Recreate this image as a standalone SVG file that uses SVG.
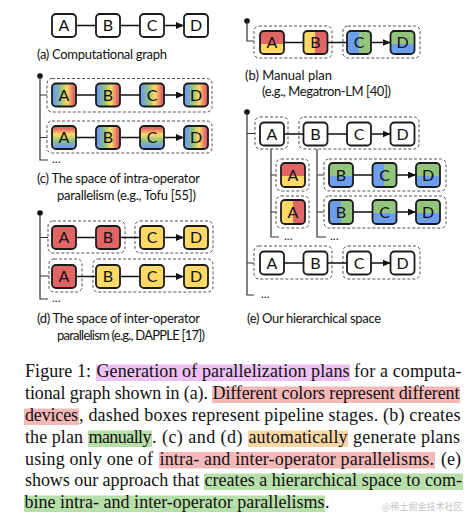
<svg xmlns="http://www.w3.org/2000/svg" width="474" height="525" viewBox="0 0 474 525">
<style>
.nd{stroke:#1a1a1a;stroke-width:1.8}
.w{fill:#fff}
.lt{font-family:Lato,"Open Sans",sans-serif;font-size:16px;fill:#111;text-anchor:middle}
.st{fill:none;stroke:#555;stroke-width:1;stroke-dasharray:3 2}
.ar{stroke:#111;stroke-width:1.5;fill:none;marker-end:url(#ah)}
.tr{stroke:#333;stroke-width:1.2;fill:none}
.lb{font-family:Lato,"Open Sans",sans-serif;font-size:13px;fill:#111}
.dt{font-family:Lato,sans-serif;font-size:12px;fill:#111}
.cap{font-family:"Liberation Serif","Times New Roman",serif;font-size:18px;fill:#111}
.hp{fill:#efc0f6}.hr{fill:#f5b8b8}.hg{fill:#b7dfa9}.ho{fill:#fbd7a6}
</style>
<defs>
<marker id="ah" viewBox="0 0 8 7" refX="8" refY="3.5" markerWidth="8" markerHeight="7" markerUnits="userSpaceOnUse" orient="auto"><path d="M0,0 L8,3.5 L0,7 z" fill="#111"/></marker>
<linearGradient id="rbh" x1="0" y1="0" x2="1" y2="0"><stop offset="0.1" stop-color="#6d9eeb"/><stop offset="0.37" stop-color="#93c47d"/><stop offset="0.63" stop-color="#ffd966"/><stop offset="0.9" stop-color="#e06666"/></linearGradient>
<linearGradient id="rbv" x1="0" y1="0" x2="0" y2="1"><stop offset="0.1" stop-color="#e06666"/><stop offset="0.37" stop-color="#ffd966"/><stop offset="0.63" stop-color="#93c47d"/><stop offset="0.9" stop-color="#6d9eeb"/></linearGradient>
<linearGradient id="ryv" x1="0" y1="0" x2="0" y2="1"><stop offset="0.55" stop-color="#e06666"/><stop offset="0.55" stop-color="#ffd966"/></linearGradient>
<linearGradient id="yrh" x1="0" y1="0" x2="1" y2="0"><stop offset="0.5" stop-color="#ffd966"/><stop offset="0.5" stop-color="#e06666"/></linearGradient>
<linearGradient id="bgh" x1="0" y1="0" x2="1" y2="0"><stop offset="0.5" stop-color="#6d9eeb"/><stop offset="0.5" stop-color="#93c47d"/></linearGradient>
<linearGradient id="gbv" x1="0" y1="0" x2="0" y2="1"><stop offset="0.55" stop-color="#93c47d"/><stop offset="0.55" stop-color="#6d9eeb"/></linearGradient>
</defs>
<rect width="474" height="525" fill="#fff"/>

<!-- stage boxes -->
<g id="stages">
<rect class="st" x="47" y="78.5" width="165" height="33.5" rx="5"/>
<rect class="st" x="47" y="121" width="165" height="32" rx="5"/>
<rect class="st" x="48" y="221" width="77" height="32" rx="5"/>
<rect class="st" x="135" y="221" width="78" height="32" rx="5"/>
<rect class="st" x="49" y="259" width="33" height="33" rx="5"/>
<rect class="st" x="93" y="259" width="120" height="33" rx="5"/>
<rect class="st" x="254" y="26" width="78" height="32" rx="5"/>
<rect class="st" x="343" y="26" width="77" height="32" rx="5"/>
<rect class="st" x="255" y="117" width="33" height="32" rx="5"/>
<rect class="st" x="299" y="117" width="120" height="32" rx="5"/>
<rect class="st" x="276" y="159" width="33" height="32" rx="5"/>
<rect class="st" x="276" y="196" width="33" height="32" rx="5"/>
<rect class="st" x="324" y="159" width="122" height="32" rx="5"/>
<rect class="st" x="324" y="196" width="122" height="32" rx="5"/>
<rect class="st" x="254" y="246" width="78" height="33" rx="5"/>
<rect class="st" x="343" y="246" width="77" height="33" rx="5"/>
</g>

<!-- connectors -->
<g id="connectors">
<circle cx="40" cy="76" r="2.8" fill="#111"/>
<circle cx="40" cy="213" r="2.8" fill="#111"/>
<circle cx="247" cy="21" r="2.8" fill="#111"/>
<circle cx="247" cy="112" r="2.8" fill="#111"/>
<path class="tr" d="M40,76 V160 H48 M40,95 H47 M40,137.5 H47"/>
<path class="tr" d="M40,213 V299 H48 M40,237.5 H48 M40,276 H49"/>
<path class="tr" d="M247,21 V41 H254"/>
<path class="tr" d="M247,112 V295 H254 M247,133.5 H255 M247,263 H254 M271,149 V237 H279 M271,175 H276 M271,212 H276 M317,149 V237 H326 M317,175 H324 M317,212 H324"/>
<path class="ar" d="M76,25.5 H96 M120,25.5 H140 M164,25.5 H184"/>
<path class="ar" d="M76,95 H96 M120,95 H140 M164,95 H184"/>
<path class="ar" d="M76,137.5 H96 M120,137.5 H140 M164,137.5 H184"/>
<path class="ar" d="M76,237.5 H96 M120,237.5 H140 M164,237.5 H184"/>
<path class="ar" d="M76,276.5 H96 M120,276.5 H140 M164,276.5 H184"/>
<path class="ar" d="M284,42.5 H303.5 M327.5,42.5 H347 M371,42.5 H390.5"/>
<path class="ar" d="M284,134 H303.5 M327.5,134 H347 M371,134 H390.5"/>
<path class="ar" d="M353,175 H372.5 M396.5,175 H416"/>
<path class="ar" d="M353,212 H372.5 M396.5,212 H416"/>
<path class="ar" d="M284,263 H303.5 M327.5,263 H347 M371,263 H390.5"/>
<text class="dt" x="52" y="163">...</text>
<text class="dt" x="52" y="302">...</text>
<text class="dt" x="284" y="240">...</text>
<text class="dt" x="330" y="240">...</text>
<text class="dt" x="261" y="298">...</text>
</g>

<!-- (a) -->
<g id="a-A"><rect class="nd w" x="52" y="14" width="24" height="23" rx="4"/><text class="lt" x="64" y="31.3">A</text></g>
<g id="a-B"><rect class="nd w" x="96" y="14" width="24" height="23" rx="4"/><text class="lt" x="108" y="31.3">B</text></g>
<g id="a-C"><rect class="nd w" x="140" y="14" width="24" height="23" rx="4"/><text class="lt" x="152" y="31.3">C</text></g>
<g id="a-D"><rect class="nd w" x="184" y="14" width="24" height="23" rx="4"/><text class="lt" x="196" y="31.3">D</text></g>

<!-- (c) row 1 -->
<g id="c1-A"><rect class="nd" fill="url(#rbh)" x="52" y="83.5" width="24" height="23" rx="4"/><text class="lt" x="64" y="100.8">A</text></g>
<g id="c1-B"><rect class="nd" fill="url(#rbh)" x="96" y="83.5" width="24" height="23" rx="4"/><text class="lt" x="108" y="100.8">B</text></g>
<g id="c1-C"><rect class="nd" fill="url(#rbh)" x="140" y="83.5" width="24" height="23" rx="4"/><text class="lt" x="152" y="100.8">C</text></g>
<g id="c1-D"><rect class="nd" fill="url(#rbh)" x="184" y="83.5" width="24" height="23" rx="4"/><text class="lt" x="196" y="100.8">D</text></g>
<!-- (c) row 2 -->
<g id="c2-A"><rect class="nd" fill="url(#rbv)" x="52" y="126" width="24" height="23" rx="4"/><text class="lt" x="64" y="143.3">A</text></g>
<g id="c2-B"><rect class="nd" fill="url(#rbh)" x="96" y="126" width="24" height="23" rx="4"/><text class="lt" x="108" y="143.3">B</text></g>
<g id="c2-C"><rect class="nd" fill="url(#rbv)" x="140" y="126" width="24" height="23" rx="4"/><text class="lt" x="152" y="143.3">C</text></g>
<g id="c2-D"><rect class="nd" fill="url(#rbh)" x="184" y="126" width="24" height="23" rx="4"/><text class="lt" x="196" y="143.3">D</text></g>

<!-- (d) row 1 -->
<g id="d1-A"><rect class="nd" fill="#e06666" x="52" y="226" width="24" height="23" rx="4"/><text class="lt" x="64" y="243.3">A</text></g>
<g id="d1-B"><rect class="nd" fill="#e06666" x="96" y="226" width="24" height="23" rx="4"/><text class="lt" x="108" y="243.3">B</text></g>
<g id="d1-C"><rect class="nd" fill="#ffd966" x="140" y="226" width="24" height="23" rx="4"/><text class="lt" x="152" y="243.3">C</text></g>
<g id="d1-D"><rect class="nd" fill="#ffd966" x="184" y="226" width="24" height="23" rx="4"/><text class="lt" x="196" y="243.3">D</text></g>
<!-- (d) row 2 -->
<g id="d2-A"><rect class="nd" fill="#e06666" x="52" y="265" width="24" height="23" rx="4"/><text class="lt" x="64" y="282.3">A</text></g>
<g id="d2-B"><rect class="nd" fill="#ffd966" x="96" y="265" width="24" height="23" rx="4"/><text class="lt" x="108" y="282.3">B</text></g>
<g id="d2-C"><rect class="nd" fill="#ffd966" x="140" y="265" width="24" height="23" rx="4"/><text class="lt" x="152" y="282.3">C</text></g>
<g id="d2-D"><rect class="nd" fill="#ffd966" x="184" y="265" width="24" height="23" rx="4"/><text class="lt" x="196" y="282.3">D</text></g>

<!-- (b) -->
<g id="b-A"><rect class="nd" fill="url(#ryv)" x="260" y="31" width="24" height="23" rx="4"/><text class="lt" x="272" y="48.3">A</text></g>
<g id="b-B"><rect class="nd" fill="url(#yrh)" x="303.5" y="31" width="24" height="23" rx="4"/><text class="lt" x="315.5" y="48.3">B</text></g>
<g id="b-C"><rect class="nd" fill="url(#bgh)" x="347" y="31" width="24" height="23" rx="4"/><text class="lt" x="359" y="48.3">C</text></g>
<g id="b-D"><rect class="nd" fill="url(#gbv)" x="390.5" y="31" width="24" height="23" rx="4"/><text class="lt" x="402.5" y="48.3">D</text></g>

<!-- (e) top -->
<g id="e0-A"><rect class="nd w" x="260" y="122.5" width="24" height="23" rx="4"/><text class="lt" x="272" y="139.8">A</text></g>
<g id="e0-B"><rect class="nd w" x="303.5" y="122.5" width="24" height="23" rx="4"/><text class="lt" x="315.5" y="139.8">B</text></g>
<g id="e0-C"><rect class="nd w" x="347" y="122.5" width="24" height="23" rx="4"/><text class="lt" x="359" y="139.8">C</text></g>
<g id="e0-D"><rect class="nd w" x="390.5" y="122.5" width="24" height="23" rx="4"/><text class="lt" x="402.5" y="139.8">D</text></g>
<!-- (e) sub A -->
<g id="eA1"><rect class="nd" fill="url(#ryv)" x="281" y="163" width="24" height="24" rx="4"/><text class="lt" x="293" y="180.8">A</text></g>
<g id="eA2"><rect class="nd" fill="url(#yrh)" x="281" y="200" width="24" height="24" rx="4"/><text class="lt" x="293" y="217.8">A</text></g>
<!-- (e) sub B -->
<g id="eB1-B"><rect class="nd" fill="url(#gbv)" x="329" y="163" width="24" height="24" rx="4"/><text class="lt" x="341" y="180.8">B</text></g>
<g id="eB1-C"><rect class="nd" fill="url(#bgh)" x="372.5" y="163" width="24" height="24" rx="4"/><text class="lt" x="384.5" y="180.8">C</text></g>
<g id="eB1-D"><rect class="nd" fill="url(#gbv)" x="416" y="163" width="24" height="24" rx="4"/><text class="lt" x="428" y="180.8">D</text></g>
<g id="eB2-B"><rect class="nd" fill="url(#bgh)" x="329" y="200" width="24" height="24" rx="4"/><text class="lt" x="341" y="217.8">B</text></g>
<g id="eB2-C"><rect class="nd" fill="url(#gbv)" x="372.5" y="200" width="24" height="24" rx="4"/><text class="lt" x="384.5" y="217.8">C</text></g>
<g id="eB2-D"><rect class="nd" fill="url(#gbv)" x="416" y="200" width="24" height="24" rx="4"/><text class="lt" x="428" y="217.8">D</text></g>
<!-- (e) bottom -->
<g id="e3-A"><rect class="nd w" x="260" y="251.5" width="24" height="23" rx="4"/><text class="lt" x="272" y="268.8">A</text></g>
<g id="e3-B"><rect class="nd w" x="303.5" y="251.5" width="24" height="23" rx="4"/><text class="lt" x="315.5" y="268.8">B</text></g>
<g id="e3-C"><rect class="nd w" x="347" y="251.5" width="24" height="23" rx="4"/><text class="lt" x="359" y="268.8">C</text></g>
<g id="e3-D"><rect class="nd w" x="390.5" y="251.5" width="24" height="23" rx="4"/><text class="lt" x="402.5" y="268.8">D</text></g>

<!-- sub-figure labels -->
<g id="labels">
<text class="lb" x="37" y="58.5" textLength="130" lengthAdjust="spacing">(a) Computational graph</text>
<text class="lb" x="245" y="80" textLength="87" lengthAdjust="spacing">(b) Manual plan</text>
<text class="lb" x="262" y="96" textLength="129" lengthAdjust="spacing">(e.g., Megatron-LM [40])</text>
<text class="lb" x="37" y="182.5" textLength="163" lengthAdjust="spacing">(c) The space of intra-operator</text>
<text class="lb" x="57" y="199.5" textLength="139" lengthAdjust="spacing">parallelism (e.g., Tofu [55])</text>
<text class="lb" x="37" y="322.5" textLength="163" lengthAdjust="spacing">(d) The space of inter-operator</text>
<text class="lb" x="57" y="339.5" textLength="148" lengthAdjust="spacing">parallelism (e.g., DAPPLE [17])</text>
<text class="lb" x="247" y="322.5" textLength="134" lengthAdjust="spacing">(e) Our hierarchical space</text>
</g>

<!-- caption -->
<g id="caption">
<rect class="hp" x="96" y="364.5" width="254" height="16.5"/>
<rect class="hr" x="212" y="386.5" width="248" height="16.5"/>
<rect class="hr" x="24" y="408.5" width="55" height="16.5"/>
<rect class="hg" x="88" y="430.5" width="64" height="16.5"/>
<rect class="ho" x="248" y="430.5" width="100" height="16.5"/>
<rect class="hr" x="159" y="452" width="276" height="16.5"/>
<rect class="hg" x="204" y="473.5" width="259" height="16.5"/>
<rect class="hg" x="24" y="495.5" width="301" height="16.5"/>
<text class="cap" x="25" y="377" textLength="66" lengthAdjust="spacing">Figure 1:</text>
<text class="cap" x="96.5" y="377" textLength="253" lengthAdjust="spacing">Generation of parallelization plans</text>
<text class="cap" x="354" y="377" textLength="107.5" lengthAdjust="spacing">for a computa-</text>
<text class="cap" x="25" y="399" textLength="183" lengthAdjust="spacing">tional graph shown in (a).</text>
<text class="cap" x="212.5" y="399" textLength="247" lengthAdjust="spacing">Different colors represent different</text>
<text class="cap" x="25" y="421" textLength="53" lengthAdjust="spacing">devices</text>
<text class="cap" x="79" y="421" textLength="381.5" lengthAdjust="spacing">, dashed boxes represent pipeline stages. (b) creates</text>
<text class="cap" x="25" y="443" textLength="58" lengthAdjust="spacing">the plan</text>
<text class="cap" x="88.5" y="443" textLength="63" lengthAdjust="spacing">manually</text>
<text class="cap" x="152" y="443" textLength="90.5" lengthAdjust="spacing">. (c) and (d)</text>
<text class="cap" x="248.5" y="443" textLength="99" lengthAdjust="spacing">automatically</text>
<text class="cap" x="353" y="443" textLength="107" lengthAdjust="spacing">generate plans</text>
<text class="cap" x="25" y="464.5" textLength="128" lengthAdjust="spacing">using only one of</text>
<text class="cap" x="159.5" y="464.5" textLength="274.5" lengthAdjust="spacing">intra- and inter-operator parallelisms.</text>
<text class="cap" x="441" y="464.5" textLength="20" lengthAdjust="spacing">(e)</text>
<text class="cap" x="25" y="486" textLength="174.5" lengthAdjust="spacing">shows our approach that</text>
<text class="cap" x="204.5" y="486" textLength="257.5" lengthAdjust="spacing">creates a hierarchical space to com-</text>
<text class="cap" x="24.5" y="508" textLength="300" lengthAdjust="spacing">bine intra- and inter-operator parallelisms</text>
<text class="cap" x="325" y="508">.</text>
<text x="382" y="510" font-family="'Noto Sans CJK SC',sans-serif" font-size="9" fill="#c4c4c4">@稀土掘金技术社区</text>
</g>
</svg>
